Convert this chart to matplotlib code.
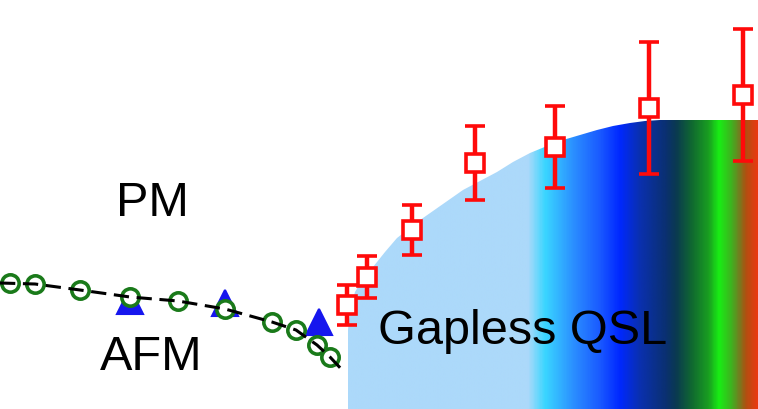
import numpy as np
import matplotlib
matplotlib.use("Agg")
import matplotlib.pyplot as plt
from matplotlib.colors import LinearSegmentedColormap
from matplotlib.patches import Polygon

plt.rcParams['font.family'] = ['Liberation Sans', 'DejaVu Sans']

# AFM boundary (green circles) and its guide line
afm_x = [10, 35, 80, 130, 178, 225, 272, 296, 317, 330]
afm_y = [126, 125, 119, 112, 108, 100, 87, 79, 64, 52]
guide_x = [0, 35, 80, 130, 178, 225, 272, 296, 317, 330, 345]
guide_y = [126, 125, 119, 112, 108, 100, 87, 79, 64, 52, 36]

# blue triangles
tri_x = [130, 225, 319]
tri_y = [108, 106, 87]

# red squares with error bars
sq_x = [347, 367, 412, 475, 555, 649, 743]
sq_y = [104, 132, 179, 246, 262, 301, 314]
sq_err = [20, 21, 25, 37, 41, 66, 66]

# upper edge of the gapless QSL region
qsl_x = [348, 350, 355, 362, 373, 385, 397, 410, 423, 443, 463, 480, 497, 513,
         530, 547, 563, 580, 597, 613, 630, 645, 660, 758]
qsl_y = [79, 99, 117, 129, 142, 157, 171, 181, 191, 205, 219, 228, 237, 247,
         256, 263, 269, 274, 279, 283, 286, 288, 289, 289]

# colour stops of the QSL shading, along x
grad_x = [348, 528, 545, 575, 600, 620, 640, 667, 677, 693, 710, 720, 733, 740, 747, 758]
grad_c = ['#acd9fa', '#acd9fa', '#3ad6ff', '#2a8cff', '#1a5aff', '#0028ff', '#0a30b0',
          '#0a3070', '#0a3a50', '#106a30', '#1aa020', '#18ee14', '#40b020', '#708020',
          '#b05010', '#e83a10']

fig = plt.figure(figsize=(7.58, 4.09), dpi=100)
ax = fig.add_axes([0, 0, 1, 1])
ax.set_xlim(0, 758)
ax.set_ylim(0, 409)
ax.axis('off')

# gradient shaded QSL region
x0, x1 = grad_x[0], grad_x[-1]
pos = [(g - x0) / (x1 - x0) for g in grad_x]
cmap = LinearSegmentedColormap.from_list('qsl', list(zip(pos, grad_c)))
img = ax.imshow(np.linspace(0, 1, 600)[None, :], cmap=cmap, aspect='auto',
                extent=(x0, x1, 0, max(qsl_y)), interpolation='bilinear', zorder=1)
verts = [(qsl_x[0], 0)] + list(zip(qsl_x, qsl_y)) + [(qsl_x[-1], 0)]
clip = Polygon(verts, closed=True, transform=ax.transData, facecolor='none', edgecolor='none')
ax.add_patch(clip)
img.set_clip_path(clip)

# data, with the dashed guide line drawn over the circles
ax.plot(tri_x, tri_y, '^', ms=19, color='#1616ee', mec='#1616ee', mew=1.5, zorder=2)
ax.plot(afm_x, afm_y, 'o', ms=12.5, mfc='white', mec='#1a7a1a', mew=2.6, zorder=3)
ax.plot(guide_x, guide_y, color='black', lw=2.2, ls=(0, (5, 2.5)), zorder=4)
ax.errorbar(sq_x, sq_y, yerr=sq_err, fmt='s', ms=12.5, mfc='white', mec='#ff0a0a', mew=2.6,
            ecolor='#ff0a0a', elinewidth=3.2, capsize=7, capthick=3.2, zorder=5)

# phase labels
ax.text(152, 206, 'PM', fontsize=35, ha='center', va='center', zorder=6)
ax.text(151, 52, 'AFM', fontsize=35, ha='center', va='center', zorder=6)
ax.text(378, 77, 'Gapless QSL', fontsize=35, ha='left', va='center', zorder=6)

fig.savefig('out.png', dpi=100)
